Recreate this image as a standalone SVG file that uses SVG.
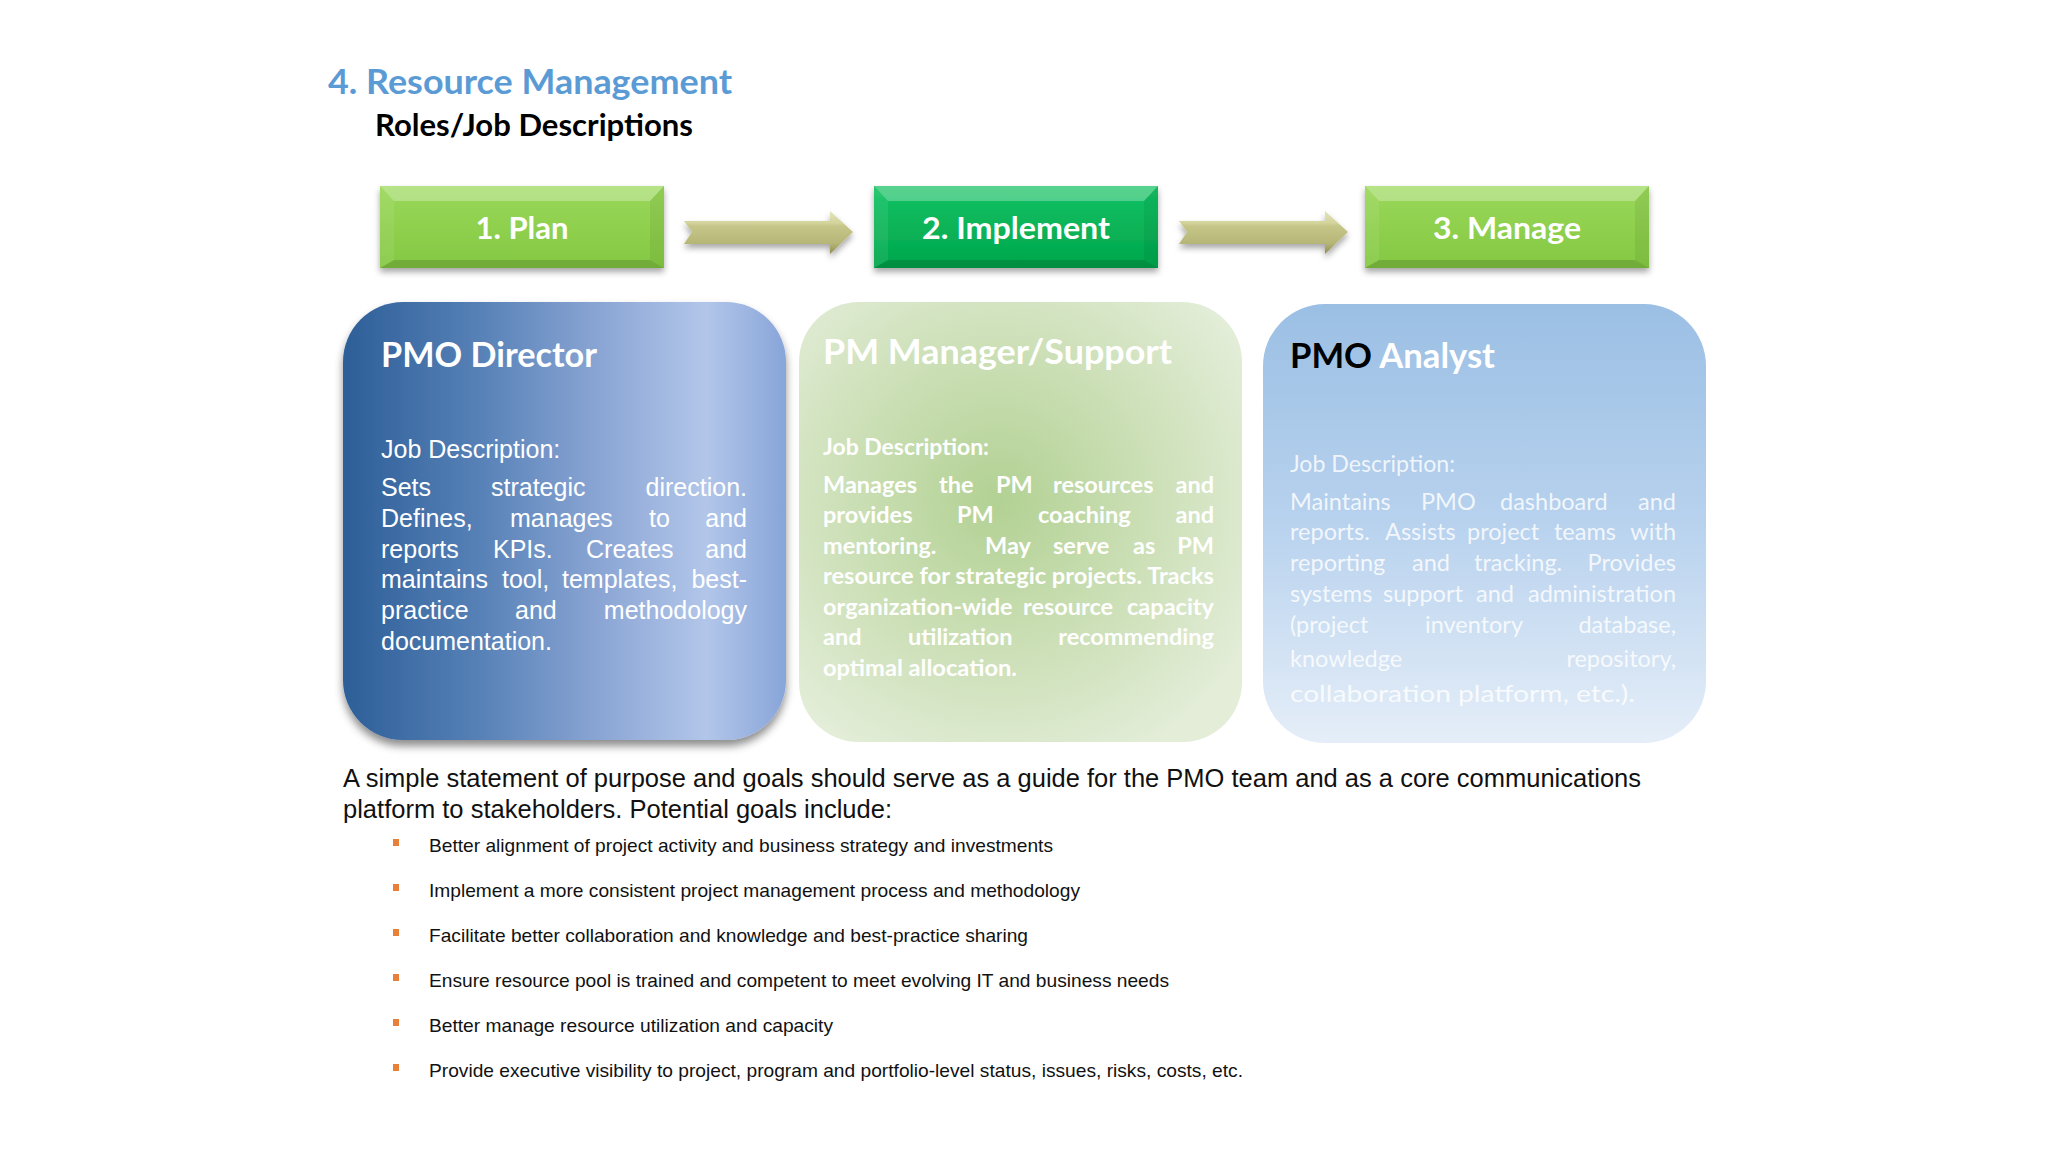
<svg xmlns="http://www.w3.org/2000/svg" xmlns:xlink="http://www.w3.org/1999/xlink" width="2048" height="1152" viewBox="0 0 2048 1152">
<style>
.title{font-family:Lato,"Open Sans",sans-serif;font-weight:700}
.step{font-family:Lato,"Open Sans",sans-serif;font-weight:700;font-size:31px;fill:#fff;text-anchor:middle}
.head{font-family:Lato,"Open Sans",sans-serif;font-weight:700;font-size:35px;fill:#fff}
.c1{font-family:"Liberation Sans",Arial,sans-serif;font-size:25px;fill:#fff}
.c2{font-family:Lato,"Open Sans",sans-serif;font-weight:700;font-size:23.5px;fill:#fff}
.c3{font-family:Lato,"Open Sans",sans-serif;font-size:23.5px;fill:#fff;fill-opacity:0.82}
.e{text-anchor:end}
.para{font-family:"Liberation Sans",Arial,sans-serif;font-size:25px;fill:#111}
.bul{font-family:"Liberation Sans",Arial,sans-serif;font-size:19px;fill:#111}
.sq{fill:#e8803a}
</style>
<defs>
<filter id="sh" x="-10%" y="-20%" width="120%" height="150%">
<feDropShadow dx="0" dy="4" stdDeviation="3" flood-color="#000" flood-opacity="0.35"/>
</filter>
<filter id="shc" x="-10%" y="-10%" width="120%" height="125%">
<feDropShadow dx="0" dy="6" stdDeviation="4" flood-color="#000" flood-opacity="0.45"/>
</filter>
<linearGradient id="gLight" x1="0" y1="0" x2="0" y2="1">
<stop offset="0" stop-color="#9ad85a"/><stop offset="1" stop-color="#84c842"/>
</linearGradient>
<linearGradient id="gDark" x1="0" y1="0" x2="0" y2="1">
<stop offset="0" stop-color="#14c264"/><stop offset="1" stop-color="#00a64b"/>
</linearGradient>
<linearGradient id="gArrow" x1="0" y1="0" x2="0" y2="1">
<stop offset="0" stop-color="#e4e4bc"/><stop offset="0.28" stop-color="#d3d39c"/>
<stop offset="0.35" stop-color="#c6c68a"/><stop offset="0.75" stop-color="#b6b677"/>
<stop offset="1" stop-color="#8e8e52"/>
</linearGradient>
<linearGradient id="gCard1" x1="0" y1="0" x2="1" y2="0">
<stop offset="0" stop-color="#2d5e97"/><stop offset="0.3" stop-color="#5580b6"/>
<stop offset="0.6" stop-color="#8ea8d6"/><stop offset="0.82" stop-color="#b2c6e9"/>
<stop offset="1" stop-color="#88a5d9"/>
</linearGradient>
<radialGradient id="gCard2" cx="0.45" cy="0.45" r="0.65">
<stop offset="0" stop-color="#b2d193"/><stop offset="0.55" stop-color="#cde0b8"/>
<stop offset="1" stop-color="#e3edd8"/>
</radialGradient>
<linearGradient id="gCard3" x1="0" y1="0" x2="0" y2="1">
<stop offset="0" stop-color="#9bbfe4"/><stop offset="0.5" stop-color="#b8d2ee"/>
<stop offset="1" stop-color="#e5eef8"/>
</linearGradient>
<g id="bevel">
<polygon points="0,0 284,0 270,15 14,15" fill="#fff" fill-opacity="0.28"/>
<polygon points="0,0 14,15 14,74 0,82" fill="#fff" fill-opacity="0.08"/>
<polygon points="284,0 284,82 270,74 270,15" fill="#000" fill-opacity="0.06"/>
<polygon points="0,82 14,74 270,74 284,82" fill="#000" fill-opacity="0.14"/>
</g>
</defs>
<rect width="2048" height="1152" fill="#fff"/>

<g id="title">
<text class="title" x="328" y="94" font-size="34" fill="#5b9bd5" textLength="404" lengthAdjust="spacingAndGlyphs">4. Resource Management</text>
<text class="title" x="375" y="136" font-size="31" fill="#000" textLength="318" lengthAdjust="spacingAndGlyphs">Roles/Job Descriptions</text>
</g>

<g id="step-plan">
<rect x="380" y="186" width="284" height="82" fill="url(#gLight)" filter="url(#sh)"/>
<use xlink:href="#bevel" href="#bevel" x="380" y="186"/>
<text class="step" x="522" y="239" textLength="93" lengthAdjust="spacingAndGlyphs">1. Plan</text>
</g>
<g id="step-implement">
<rect x="874" y="186" width="284" height="82" fill="url(#gDark)" filter="url(#sh)"/>
<use xlink:href="#bevel" href="#bevel" x="874" y="186"/>
<text class="step" x="1016" y="239" textLength="188" lengthAdjust="spacingAndGlyphs">2. Implement</text>
</g>
<g id="step-manage">
<rect x="1365" y="186" width="284" height="82" fill="url(#gLight)" filter="url(#sh)"/>
<use xlink:href="#bevel" href="#bevel" x="1365" y="186"/>
<text class="step" x="1507" y="239" textLength="148" lengthAdjust="spacingAndGlyphs">3. Manage</text>
</g>

<g id="connectors">
<polygon points="684,221 830,221 830,211 853,232 830,254 830,244 684,244 692,232" fill="url(#gArrow)" filter="url(#sh)"/>
<polygon points="1179,221 1325,221 1325,211 1348,232 1325,254 1325,244 1179,244 1187,232" fill="url(#gArrow)" filter="url(#sh)"/>
</g>

<g id="card-director">
<rect x="343" y="302" width="443" height="438" rx="60" ry="60" fill="url(#gCard1)" filter="url(#shc)"/>
<text class="head" x="381" y="367" textLength="216" lengthAdjust="spacingAndGlyphs">PMO Director</text>
<text class="c1" x="381" y="458">Job Description:</text>
<text class="c1" x="381" y="496">Sets</text><text class="c1" x="491" y="496">strategic</text><text class="c1 e" x="747" y="496">direction.</text>
<text class="c1" x="381" y="527">Defines,</text><text class="c1" x="510" y="527">manages</text><text class="c1" x="649" y="527">to</text><text class="c1 e" x="747" y="527">and</text>
<text class="c1" x="381" y="558">reports</text><text class="c1" x="493" y="558">KPIs.</text><text class="c1" x="586" y="558">Creates</text><text class="c1 e" x="747" y="558">and</text>
<text class="c1" x="381" y="588">maintains</text><text class="c1" x="502" y="588">tool,</text><text class="c1" x="562" y="588">templates,</text><text class="c1 e" x="747" y="588">best-</text>
<text class="c1" x="381" y="619">practice</text><text class="c1" x="515" y="619">and</text><text class="c1 e" x="747" y="619">methodology</text>
<text class="c1" x="381" y="650">documentation.</text>
</g>

<g id="card-manager">
<rect x="799" y="302" width="443" height="440" rx="60" ry="60" fill="url(#gCard2)"/>
<text class="head" x="823" y="364" font-size="34" textLength="349" lengthAdjust="spacingAndGlyphs">PM Manager/Support</text>
<text class="c2" x="823" y="455" textLength="166" lengthAdjust="spacingAndGlyphs">Job Description:</text>
<text class="c2" x="823" y="493">Manages</text><text class="c2" x="939" y="493">the</text><text class="c2" x="996" y="493">PM</text><text class="c2" x="1053" y="493">resources</text><text class="c2 e" x="1214" y="493">and</text>
<text class="c2" x="823" y="523">provides</text><text class="c2" x="957" y="523">PM</text><text class="c2" x="1038" y="523">coaching</text><text class="c2 e" x="1214" y="523">and</text>
<text class="c2" x="823" y="554">mentoring.</text><text class="c2" x="985" y="554">May</text><text class="c2" x="1053" y="554">serve</text><text class="c2" x="1133" y="554">as</text><text class="c2 e" x="1214" y="554">PM</text>
<text class="c2" x="823" y="584" textLength="391" lengthAdjust="spacingAndGlyphs">resource for strategic projects. Tracks</text>
<text class="c2" x="823" y="615">organization-wide</text><text class="c2" x="1023" y="615">resource</text><text class="c2 e" x="1214" y="615">capacity</text>
<text class="c2" x="823" y="645">and</text><text class="c2" x="908" y="645">utilization</text><text class="c2 e" x="1214" y="645">recommending</text>
<text class="c2" x="823" y="676" textLength="194" lengthAdjust="spacingAndGlyphs">optimal allocation.</text>
</g>

<g id="card-analyst">
<rect x="1263" y="304" width="443" height="439" rx="62" ry="62" fill="url(#gCard3)"/>
<text class="head" x="1290" y="368" font-size="34" textLength="205" lengthAdjust="spacingAndGlyphs"><tspan fill="#000">PMO </tspan><tspan fill="#fff">Analyst</tspan></text>
<text class="c3" x="1290" y="472" font-size="24" textLength="165" lengthAdjust="spacingAndGlyphs">Job Description:</text>
<text class="c3" x="1290" y="510">Maintains</text><text class="c3" x="1421" y="510">PMO</text><text class="c3" x="1500" y="510">dashboard</text><text class="c3 e" x="1676" y="510">and</text>
<text class="c3" x="1290" y="540">reports.</text><text class="c3" x="1385" y="540">Assists</text><text class="c3" x="1467" y="540">project</text><text class="c3" x="1554" y="540">teams</text><text class="c3 e" x="1676" y="540">with</text>
<text class="c3" x="1290" y="571">reporting</text><text class="c3" x="1412" y="571">and</text><text class="c3" x="1474" y="571">tracking.</text><text class="c3 e" x="1676" y="571">Provides</text>
<text class="c3" x="1290" y="602">systems</text><text class="c3" x="1383" y="602">support</text><text class="c3" x="1476" y="602">and</text><text class="c3 e" x="1676" y="602">administration</text>
<text class="c3" x="1290" y="633">(project</text><text class="c3" x="1425" y="633">inventory</text><text class="c3 e" x="1676" y="633">database,</text>
<text class="c3" x="1290" y="667">knowledge</text><text class="c3 e" x="1676" y="667">repository,</text>
<text class="c3" x="1290" y="702" font-size="28" textLength="345" lengthAdjust="spacingAndGlyphs">collaboration platform, etc.).</text>
</g>

<g id="goals">
<text class="para" x="343" y="787" textLength="1298" lengthAdjust="spacingAndGlyphs">A simple statement of purpose and goals should serve as a guide for the PMO team and as a core communications</text>
<text class="para" x="343" y="818" textLength="549" lengthAdjust="spacingAndGlyphs">platform to stakeholders. Potential goals include:</text>
<rect class="sq" x="393" y="839" width="6" height="7"/>
<text class="bul" x="429" y="852" textLength="624" lengthAdjust="spacingAndGlyphs">Better alignment of project activity and business strategy and investments</text>
<rect class="sq" x="393" y="884" width="6" height="7"/>
<text class="bul" x="429" y="897" textLength="651" lengthAdjust="spacingAndGlyphs">Implement a more consistent project management process and methodology</text>
<rect class="sq" x="393" y="929" width="6" height="7"/>
<text class="bul" x="429" y="942" textLength="599" lengthAdjust="spacingAndGlyphs">Facilitate better collaboration and knowledge and best-practice sharing</text>
<rect class="sq" x="393" y="974" width="6" height="7"/>
<text class="bul" x="429" y="987" textLength="740" lengthAdjust="spacingAndGlyphs">Ensure resource pool is trained and competent to meet evolving IT and business needs</text>
<rect class="sq" x="393" y="1019" width="6" height="7"/>
<text class="bul" x="429" y="1032" textLength="404" lengthAdjust="spacingAndGlyphs">Better manage resource utilization and capacity</text>
<rect class="sq" x="393" y="1064" width="6" height="7"/>
<text class="bul" x="429" y="1077" textLength="814" lengthAdjust="spacingAndGlyphs">Provide executive visibility to project, program and portfolio-level status, issues, risks, costs, etc.</text>
</g>
</svg>
